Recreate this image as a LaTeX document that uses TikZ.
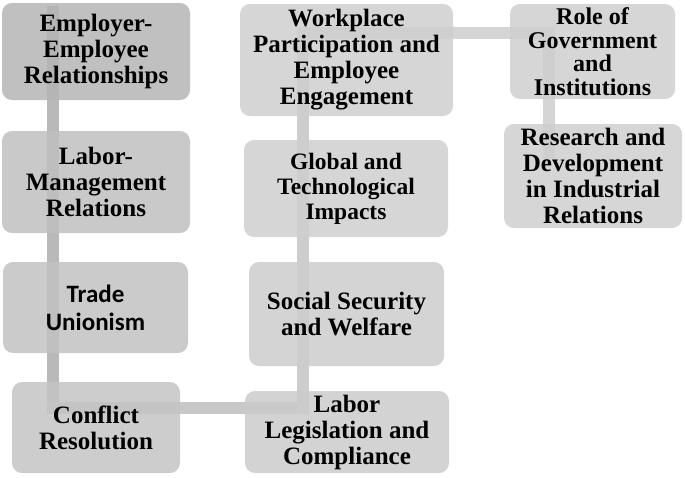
\documentclass[tikz,border=0pt]{standalone}
\usepackage{fontspec}
\setmainfont{Liberation Serif}
\newfontfamily\calibri{Carlito}
\usepackage{xcolor}
\usepackage{tikz}
\pgfdeclarelayer{background}
\pgfsetlayers{background,main}
% box shades, darkest at the start of the chain
\definecolor{shadeA}{RGB}{181,181,181}
\definecolor{shadeB}{RGB}{191,191,191}
\definecolor{shadeC}{RGB}{194,194,194}
\definecolor{shadeD}{RGB}{196,196,196}
\definecolor{shadeE}{RGB}{203,203,203}
\definecolor{shadeF}{RGB}{205,205,205}
\definecolor{shadeG}{RGB}{207,207,207}
% band shades
\definecolor{bandA}{RGB}{185,185,185}
\definecolor{bandB}{RGB}{200,200,200}
\definecolor{bandC}{RGB}{205,205,205}
\definecolor{bandD}{RGB}{213,213,213}
\tikzset{
  topic/.style={rectangle, rounded corners=10pt, inner sep=0pt, fill opacity=0.85, text opacity=1,
    align=center, font=\fontsize{25}{26}\selectfont\bfseries},
  band/.style={line width=12pt, line cap=rect}
}
\begin{document}
\begin{tikzpicture}[x=1pt,y=-1pt]
  \useasboundingbox (0,0) rectangle (685,477);
  % left column
  \node[topic, fill=shadeA, minimum width=188pt, minimum height=97pt] (emp) at (96,51.5)
    {Employer-\\Employee\\Relationships};
  \node[topic, fill=shadeB, minimum width=188pt, minimum height=102pt] (lmr) at (96,182)
    {Labor-\\Management\\Relations};
  \node[topic, fill=shadeC, minimum width=185pt, minimum height=91pt,
    font=\fontsize{25}{28}\selectfont\calibri\bfseries] (trade) at (95.5,307.5)
    {Trade\\Unionism};
  \node[topic, fill=shadeD, minimum width=168pt, minimum height=91pt] (conflict) at (96,427.5)
    {Conflict\\Resolution};
  % middle column
  \node[topic, fill=shadeE, minimum width=204pt, minimum height=82pt] (legis) at (347,432)
    {Labor\\Legislation and\\Compliance};
  \node[topic, fill=shadeF, minimum width=195pt, minimum height=104pt] (social) at (346.5,314)
    {Social Security\\and Welfare};
  \node[topic, fill=shadeG, minimum width=204pt, minimum height=97pt,
    font=\fontsize{23.5}{25}\selectfont\bfseries] (global) at (346,188.5)
    {Global and\\Technological\\Impacts};
  \node[topic, fill=shadeG, minimum width=213pt, minimum height=112pt] (work) at (346.5,60)
    {Workplace\\Participation and\\Employee\\Engagement};
  % right column
  \node[topic, fill=shadeG, minimum width=165pt, minimum height=95pt,
    font=\fontsize{24}{23.5}\selectfont\bfseries] (role) at (592.5,51.5)
    {Role of\\Government\\and\\Institutions};
  \node[topic, fill=shadeG, minimum width=178pt, minimum height=104pt] (research) at (593,176)
    {Research and\\Development\\in Industrial\\Relations};
  % bend points of the band
  \coordinate (k1) at (53,12);
  \coordinate (k2) at (53,408);
  \coordinate (k3) at (303,408);
  \coordinate (k4) at (303,33);
  \coordinate (k5) at (549,33);
  \coordinate (k6) at (549,153);
  \begin{pgfonlayer}{background}
    \draw[band, draw=bandA] (k1) -- (k2);
    \draw[band, draw=bandB] (k2) -- (k3);
    \draw[band, draw=bandC] (k3) -- (k4);
    \draw[band, draw=bandD] (k4) -- (k5);
    \draw[band, draw=bandD] (k5) -- (k6);
  \end{pgfonlayer}
\end{tikzpicture}
\end{document}
